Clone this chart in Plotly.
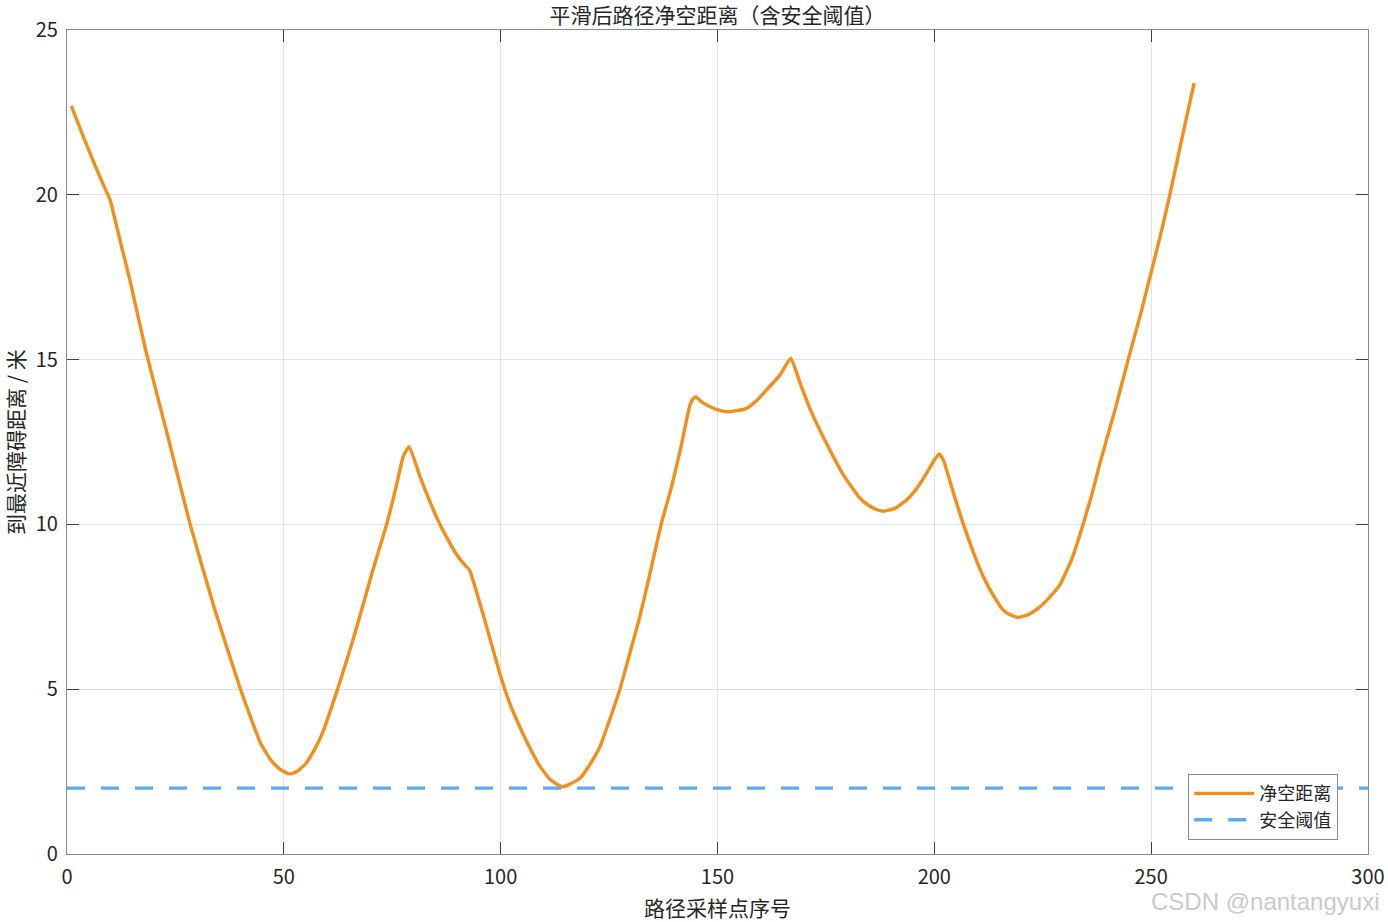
import plotly.graph_objects as go

# Clearance distance along the smoothed path
sample_idx = [1, 3.8, 6.5, 8.4, 9.9, 12.2, 14.5, 18.3, 23, 28.4, 34, 40, 44.6, 47, 49, 51.2,
              53, 55, 57, 59, 61, 63, 65.5, 67.6, 70.5, 73.7, 76, 77.5, 78.9,
              81.4, 83.5, 86, 88, 89.9, 91.5, 92.8,
              96, 99.8, 102, 104.4, 106.8, 109.1, 111.5, 114.1, 116, 118.3, 120.5, 122.9, 125.2, 127.5,
              129.8, 132.1, 134.5, 137, 139.4, 141.5, 143.6, 144.3, 145,
              146.5, 148.3, 150.5, 152.5, 154.5, 156.7, 159, 161.3, 164.4, 166.9,
              169, 171.5, 174, 176.7, 178.8, 180.9, 182.8, 184.8, 186.5, 188.2, 190.8, 193.6, 196, 198.2, 200, 201.1, 202.1,
              204.3, 206.7, 209, 211.3, 213.6, 215.9, 217.6, 219.3, 221.5, 223.6, 226.3, 229, 231.7, 234.3,
              236.3, 238.2, 241.5, 244.7, 247.5, 250.1, 252.3, 254.3, 257, 259.9]
clearance = [22.7, 21.75, 20.88, 20.3, 19.86, 18.63, 17.41, 15.2, 12.8, 10.0, 7.45, 5.0, 3.37, 2.85, 2.58, 2.43,
             2.5, 2.73, 3.15, 3.7, 4.45, 5.25, 6.3, 7.25, 8.6, 10.0, 11.2, 12.05, 12.36,
             11.45, 10.75, 10.0, 9.5, 9.07, 8.8, 8.62,
             7.25, 5.48, 4.6, 3.86, 3.2, 2.65, 2.25, 2.04, 2.12, 2.3, 2.7, 3.26, 4.1, 5.0,
             6.1, 7.2, 8.55, 10.0, 11.14, 12.3, 13.6, 13.8, 13.87,
             13.7, 13.57, 13.46, 13.42, 13.45, 13.52, 13.75, 14.08, 14.53, 15.04,
             14.3, 13.45, 12.75, 12.05, 11.55, 11.14, 10.8, 10.58, 10.46, 10.4, 10.48, 10.74, 11.1, 11.55, 11.95, 12.14, 11.95,
             11.0, 10.0, 9.15, 8.41, 7.85, 7.4, 7.25, 7.18, 7.25, 7.42, 7.75, 8.18, 8.95, 10.0,
             10.9, 11.86, 13.4, 15.0, 16.35, 17.7, 18.85, 20.0, 21.65, 23.39]
safety_x = [0, 300]
safety_y = [2, 2]

x_ticks = [0, 50, 100, 150, 200, 250, 300]
y_ticks = [0, 5, 10, 15, 20, 25]

FONT = "Noto Sans CJK SC, Microsoft YaHei, sans-serif"
W, H = 1388, 922
L, R, T, B = 67, 20, 30, 68

fig = go.Figure()
fig.add_trace(go.Scatter(x=sample_idx, y=clearance, mode="lines", name="净空距离",
                         line=dict(color="#F28E1C", width=3.4, shape="spline", smoothing=0.4)))
fig.add_trace(go.Scatter(x=safety_x, y=safety_y, mode="lines", name="安全阈值",
                         line=dict(color="#5AABF2", width=3.4, dash="18px,16px")))

axis_common = dict(showline=True, linecolor="#8a8a8a", linewidth=1.3, mirror="ticks",
                   ticks="inside", ticklen=12, tickcolor="#404040", tickwidth=1.2,
                   showgrid=True, gridcolor="#e3e3e3", gridwidth=1, zeroline=False,
                   automargin=False,
                   tickfont=dict(family=FONT, size=20, color="#262626"))

fig.update_xaxes(range=[0, 300], tickvals=x_ticks, ticklabelstandoff=5, **axis_common)
fig.update_yaxes(range=[0, 25], tickvals=y_ticks, ticklabelstandoff=4, **axis_common)

pw, ph = W - L - R, H - T - B
fig.update_layout(
    width=W, height=H,
    margin=dict(l=L, r=R, t=T, b=B),
    plot_bgcolor="white", paper_bgcolor="white",
    title=dict(text="平滑后路径净空距离（含安全阈值）", x=0.5, xref="paper",
               yref="container", y=1 - 15.5 / H, yanchor="middle",
               font=dict(family=FONT, size=21, color="#262626")),
    legend=dict(x=(1338 - L) / pw, y=(H - B - 840) / ph, xanchor="right", yanchor="bottom",
                bgcolor="white", bordercolor="#8a8a8a", borderwidth=1.2, itemwidth=60,
                font=dict(family=FONT, size=18, color="#262626"), tracegroupgap=0),
    showlegend=True,
)

# axis titles
fig.add_annotation(text="路径采样点序号", xref="paper", yref="paper", x=0.5, y=-(907 - (H - B)) / ph,
                   xanchor="center", yanchor="middle", showarrow=False,
                   font=dict(family=FONT, size=21, color="#262626"))
fig.add_annotation(text="到最近障碍距离 / 米", xref="paper", yref="paper", x=-(L - 15) / pw, y=0.5,
                   xanchor="center", yanchor="middle", showarrow=False, textangle=-90,
                   font=dict(family=FONT, size=21, color="#262626"))

fig.add_annotation(text="CSDN @nantangyuxi", xref="paper", yref="paper", x=(1381 - L) / pw,
                   y=-(901 - (H - B)) / ph,
                   xanchor="right", yanchor="middle", showarrow=False,
                   font=dict(family="Liberation Sans, Arial, sans-serif", size=24, color="#cacaca"))

fig.write_html("out.html", config={"displayModeBar": False},
               post_script="document.body.style.margin='0';document.body.style.overflow='hidden';")
